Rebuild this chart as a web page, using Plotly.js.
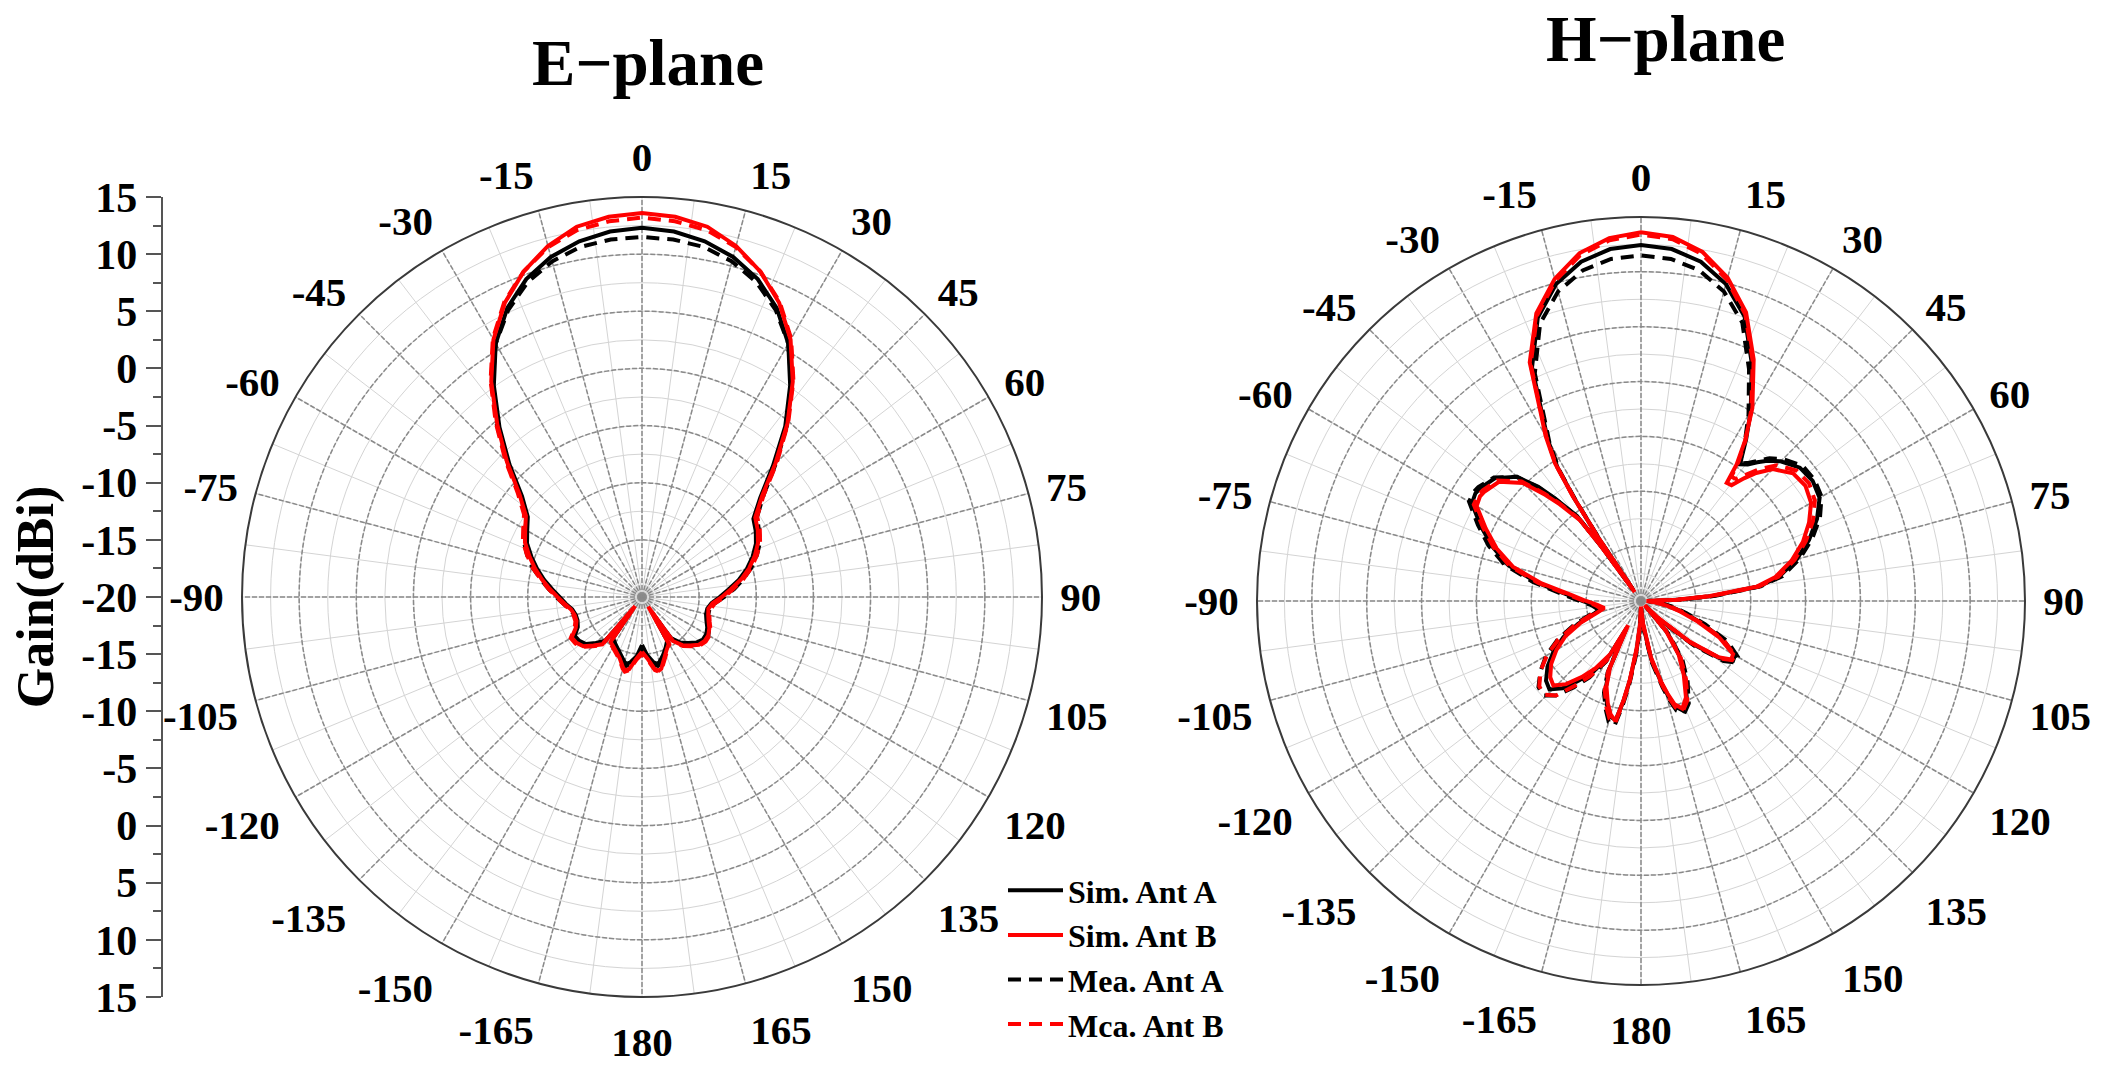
<!DOCTYPE html>
<html>
<head>
<meta charset="utf-8">
<script src="https://cdn.plot.ly/plotly-3.0.1.min.js"></script>
<style>
  html, body { margin: 0; padding: 0; background: #ffffff; }
  #chart { width: 2109px; height: 1080px; }
</style>
</head>
<body>
<div id="chart"></div>
<script>
// ---------- angular tick labels ----------
var angTickVals = [0,15,30,45,60,75,90,105,120,135,150,165,180,195,210,225,240,255,270,285,300,315,330,345];
var angTickText = ['0','15','30','45','60','75','90','105','120','135','150','165','180','-165','-150','-135','-120','-105','-90','-75','-60','-45','-30','-15'];

// ---------- linear gain scale drawn left of the E-plane ----------
var gainTickVals = [-35,-30,-25,-20,-15,-10,-5,0,5,10,15,20,25,30,35];
var gainTickText = ['15','10','5','0','-5','-10','-15','-20','-15','-10','-5','0','5','10','15'];

// ---------- E-plane (deg, dBi) ----------
var thetaE = [-180,-175,-170,-167,-165,-160,-155,-150,-145,-143,-140,-135,-130,-125,-120,-115,-110,-105,-100,-95,-90,-85,-80,-75,-70,-65,-60,-55,-50,-45,-40,-35,-30,-25,-20,-15,-10,-5,0,5,10,15,20,25,30,35,40,45,50,55,60,65,70,75,80,85,90,95,100,105,110,115,120,125,130,135,140,145,147,150,155,160,165,167,170,175,180];

var simA_E = [-15.8,-14.8,-14.2,-14.0,-14.1,-14.6,-15.0,-15.3,-15.6,-18.5,-15.0,-14.3,-13.6,-13.3,-13.2,-13.8,-14.0,-14.0,-13.8,-13.3,-12.8,-12.1,-11.3,-10.5,-9.7,-8.9,-8.4,-7.8,-6.3,-3.6,-0.6,2.6,5.6,7.9,9.6,10.8,11.6,12.1,12.3,12.1,11.6,10.8,9.6,7.9,5.6,2.6,-0.5,-3.8,-6.5,-8.1,-8.5,-9.0,-9.7,-10.5,-11.4,-12.4,-13.2,-13.9,-14.2,-14.2,-14.0,-13.7,-13.5,-13.5,-13.8,-14.3,-14.8,-15.6,-18.5,-15.6,-15.1,-14.6,-14.1,-14.0,-14.2,-14.9,-15.8];

var simB_E = [-15.2,-14.6,-13.6,-13.4,-13.6,-14.3,-14.7,-15.0,-15.2,-19.0,-14.6,-14.0,-13.3,-13.0,-12.9,-13.6,-13.9,-13.9,-13.7,-13.2,-12.6,-11.9,-11.1,-10.3,-9.5,-8.7,-8.2,-7.6,-6.0,-3.3,-0.3,3.0,6.0,8.4,10.3,11.8,12.9,13.4,13.6,13.4,12.9,11.8,10.3,8.4,6.0,3.0,-0.2,-3.5,-6.3,-7.9,-8.3,-8.8,-9.5,-10.3,-11.2,-12.2,-13.0,-13.8,-14.1,-14.0,-13.8,-13.5,-13.3,-13.3,-13.5,-14.0,-14.5,-15.3,-19.0,-15.3,-14.9,-14.3,-13.5,-13.4,-13.6,-14.6,-15.2];

var meaA_E = [-15.5,-14.7,-14.0,-13.8,-13.9,-14.5,-14.9,-15.2,-15.5,-18.0,-14.9,-14.2,-13.5,-13.1,-13.0,-13.7,-13.9,-13.9,-13.6,-13.1,-12.5,-11.8,-11.0,-10.1,-9.3,-8.6,-8.2,-7.7,-6.0,-3.3,-0.2,2.8,5.6,7.7,9.3,10.4,11.1,11.4,11.5,11.4,11.1,10.4,9.3,7.7,5.6,2.8,-0.2,-3.4,-6.1,-7.7,-8.2,-8.6,-9.3,-10.1,-11.0,-11.9,-12.8,-13.6,-14.0,-14.0,-13.8,-13.5,-13.3,-13.3,-13.6,-14.1,-14.7,-15.4,-18.0,-15.4,-15.0,-14.5,-13.9,-13.8,-14.0,-14.8,-15.5];

var meaB_E = [-15.0,-14.5,-13.5,-13.3,-13.5,-14.2,-14.6,-14.9,-15.1,-18.5,-14.5,-13.9,-13.2,-12.9,-12.8,-13.5,-13.8,-13.8,-13.6,-13.1,-12.5,-11.8,-11.0,-10.1,-9.3,-8.5,-8.0,-7.4,-5.8,-3.1,-0.1,3.1,6.1,8.5,10.3,11.7,12.6,13.0,13.2,13.0,12.6,11.7,10.3,8.5,6.1,3.1,-0.1,-3.3,-6.1,-7.7,-8.1,-8.6,-9.3,-10.1,-11.0,-12.0,-12.8,-13.6,-13.9,-13.9,-13.7,-13.4,-13.2,-13.2,-13.4,-13.9,-14.4,-15.2,-18.5,-15.2,-14.8,-14.2,-13.4,-13.3,-13.5,-14.5,-15.0];

// ---------- H-plane (deg, dBi) ----------
var thetaH = [-180,-178,-175,-172,-170,-168,-165,-162,-158,-155,-152,-150,-146,-142,-138,-134,-130,-125,-120,-115,-110,-105,-101,-95,-90,-85,-80,-75,-70,-65,-60,-57,-55,-50,-45,-42,-40,-37,-36,-35,-34,-33,-32,-30,-28,-25,-20,-15,-10,-5,0,5,10,15,20,25,30,33,35,36,38,40,42,45,50,55,60,65,70,75,80,83,86,88,91,95,100,105,110,115,120,123,126,130,135,138,140,145,150,155,159,162,164,166,170,175,180];

var simA_H = [-19.4,-17.8,-15.6,-12.7,-10.7,-8.9,-9.1,-10.0,-11.4,-13.2,-17.2,-14.2,-12.2,-10.8,-9.3,-8.4,-8.7,-9.6,-10.8,-12.2,-13.9,-15.6,-16.3,-15.8,-14.7,-13.2,-10.4,-7.5,-5.6,-3.9,-2.2,-2.0,-2.1,-2.6,-4.0,-6.0,-7.8,-10.3,-13.8,-18.8,-13.2,-8.8,-5.6,-3.0,-0.9,3.5,7.5,9.9,11.4,12.2,12.45,12.2,11.4,9.9,7.6,3.9,0.0,-2.4,-4.0,-4.6,-4.2,-3.5,-2.8,-2.0,-1.1,-0.9,-1.2,-2.3,-3.7,-5.3,-7.2,-9.2,-13.5,-16.6,-19.4,-18.6,-17.4,-16.0,-14.2,-11.8,-10.1,-10.0,-11.1,-14.0,-17.8,-19.4,-16.3,-13.8,-12.0,-10.1,-9.3,-9.9,-11.0,-12.3,-14.6,-17.8,-19.4];

var simB_H = [-19.5,-18.0,-15.8,-12.8,-10.8,-8.8,-9.3,-10.2,-11.6,-13.3,-17.5,-14.4,-12.6,-11.2,-9.8,-8.9,-9.2,-10.0,-11.1,-12.4,-14.1,-15.8,-16.6,-16.0,-15.0,-13.6,-10.8,-7.9,-6.0,-4.4,-2.7,-2.5,-2.6,-3.1,-4.8,-7.0,-8.5,-10.8,-14.0,-19.0,-13.0,-8.5,-5.2,-2.6,-0.5,4.0,7.9,10.4,12.2,13.2,13.6,13.3,12.3,10.5,8.0,4.3,0.3,-2.6,-4.8,-6.7,-6.6,-5.4,-4.3,-3.0,-1.9,-1.7,-2.1,-3.1,-4.3,-5.8,-7.6,-9.4,-13.8,-16.8,-19.5,-18.8,-17.6,-16.3,-14.5,-12.1,-10.3,-10.2,-11.3,-14.3,-18.0,-19.5,-16.5,-14.0,-12.2,-10.3,-9.5,-10.1,-11.2,-12.4,-14.8,-18.0,-19.5];

var meaA_H = [-19.2,-17.5,-15.2,-12.3,-10.3,-8.4,-8.6,-9.6,-11.0,-12.8,-16.8,-13.6,-11.6,-10.0,-8.4,-7.6,-7.8,-8.8,-10.0,-11.6,-13.4,-15.2,-16.0,-15.5,-14.4,-12.8,-10.0,-7.1,-5.2,-3.6,-1.9,-1.8,-1.9,-2.5,-4.0,-6.1,-7.9,-10.4,-13.9,-18.6,-13.4,-9.1,-5.9,-3.3,-1.3,2.9,6.9,9.2,10.6,11.3,11.5,11.3,10.6,9.2,7.0,3.3,-0.4,-2.6,-4.1,-4.5,-4.0,-3.3,-2.5,-1.7,-0.8,-0.7,-1.0,-2.0,-3.4,-5.0,-6.9,-9.0,-13.2,-16.4,-19.2,-18.4,-17.1,-15.7,-13.8,-11.3,-9.8,-9.7,-10.7,-13.6,-17.5,-19.2,-16.0,-13.4,-11.5,-9.7,-9.0,-9.5,-10.6,-11.9,-14.3,-17.5,-19.2];

var meaB_H = [-19.4,-17.9,-15.6,-12.6,-10.6,-8.6,-8.9,-9.8,-11.2,-12.9,-17.0,-13.8,-11.8,-10.2,-8.4,-7.7,-7.9,-8.8,-10.1,-11.7,-13.6,-15.4,-16.3,-15.8,-14.8,-13.3,-10.5,-7.6,-5.7,-4.1,-2.4,-2.3,-2.4,-2.9,-4.6,-6.8,-8.3,-10.6,-13.8,-18.8,-13.1,-8.7,-5.4,-2.8,-0.7,3.8,7.7,10.2,12.0,13.0,13.4,13.1,12.1,10.3,7.8,4.1,0.1,-2.5,-4.5,-6.0,-5.9,-4.9,-3.8,-2.5,-1.5,-1.3,-1.7,-2.7,-4.0,-5.5,-7.3,-9.2,-13.6,-16.6,-19.4,-18.6,-17.4,-16.1,-14.2,-11.8,-10.1,-10.1,-11.1,-14.1,-17.8,-19.4,-16.2,-13.7,-11.8,-10.0,-9.3,-9.8,-10.9,-12.2,-14.6,-17.8,-19.4];

// ---------- figure ----------
var W = 2109, H = 1080;
var serif = 'Liberation Serif, Times New Roman, serif';
var dashPat = '13px,8px';

function tr(r, theta, name, color, dash, subplot, show, rank) {
  return {
    type: 'scatterpolar', mode: 'lines', r: r, theta: theta, subplot: subplot,
    name: name, showlegend: show, legendrank: rank, hoverinfo: 'skip',
    line: { color: color, width: 4, dash: dash }
  };
}
// invisible carrier traces so that the grid-only subplots and the gain scale get drawn
function carrier(r, theta, subplot) {
  return { type: 'scatterpolar', mode: 'lines', r: r, theta: theta, subplot: subplot,
           showlegend: false, hoverinfo: 'skip', line: { width: 0, color: 'rgba(0,0,0,0)' } };
}

var data = [
  carrier(simB_E, thetaE, 'polar'),
  carrier(simB_H, thetaH, 'polar2'),
  { type: 'scatter', mode: 'none', x: gainTickVals, y: gainTickVals, xaxis: 'x', yaxis: 'y',
    showlegend: false, hoverinfo: 'skip' },
  tr(simA_E, thetaE, 'Sim. Ant A', '#000000', 'solid', 'polar3', true, 1),
  tr(meaA_E, thetaE, 'Mea. Ant A', '#000000', dashPat, 'polar3', true, 3),
  tr(meaB_E, thetaE, 'Mca. Ant B', '#ff0000', dashPat, 'polar3', true, 4),
  tr(simB_E, thetaE, 'Sim. Ant B', '#ff0000', 'solid', 'polar3', true, 2),
  tr(simA_H, thetaH, 'Sim. Ant A', '#000000', 'solid', 'polar4', false, 1),
  tr(meaA_H, thetaH, 'Mea. Ant A', '#000000', dashPat, 'polar4', false, 3),
  tr(meaB_H, thetaH, 'Mca. Ant B', '#ff0000', dashPat, 'polar4', false, 4),
  tr(simB_H, thetaH, 'Sim. Ant B', '#ff0000', 'solid', 'polar4', false, 2)
];

var domE = { x: [242 / W, 1042 / W], y: [83 / H, 883 / H] };
var domH = { x: [1257 / W, 2025 / W], y: [95 / H, 863 / H] };

function minorPolar(dom) {
  return {
    domain: dom, bgcolor: '#ffffff',
    radialaxis: { range: [-20, 15], tick0: -20, dtick: 2.5, showticklabels: false, ticks: '',
                  showline: false, gridcolor: '#d4d4d4', gridwidth: 1 },
    angularaxis: { rotation: 90, direction: 'clockwise', tickmode: 'linear', tick0: 0, dtick: 7.5,
                   showticklabels: false, ticks: '', showline: false, gridcolor: '#d4d4d4', gridwidth: 1 }
  };
}
function majorPolar(dom) {
  return {
    domain: dom, bgcolor: 'rgba(0,0,0,0)',
    radialaxis: { range: [-20, 15], tickmode: 'array', tickvals: [-15, -10, -5, 0, 5, 10],
                  showticklabels: false, ticks: '', showline: false,
                  gridcolor: '#8a8a8a', gridwidth: 1.5, griddash: '5px,2px' },
    angularaxis: { rotation: 90, direction: 'clockwise', tickmode: 'array',
                   tickvals: angTickVals, ticktext: angTickText,
                   ticks: 'outside', ticklen: 9, tickcolor: 'rgba(0,0,0,0)',
                   showline: true, linecolor: '#3a3a3a', linewidth: 2,
                   gridcolor: '#8a8a8a', gridwidth: 1.5, griddash: '5px,2px',
                   tickfont: { family: serif, size: 41, color: '#000', weight: 'bold' } }
  };
}

var layout = {
  width: W, height: H,
  margin: { l: 0, r: 0, t: 0, b: 0 },
  paper_bgcolor: '#ffffff', plot_bgcolor: 'rgba(0,0,0,0)',
  font: { family: serif, color: '#000', weight: 'bold' },
  showlegend: true,
  legend: { x: 1003 / W, y: 1 - 863 / H, xanchor: 'left', yanchor: 'top',
            bgcolor: 'rgba(0,0,0,0)', font: { family: serif, size: 32, color: '#000', weight: 'bold' },
            itemwidth: 55, tracegroupgap: 0, traceorder: 'normal' },
  polar: minorPolar(domE),
  polar2: minorPolar(domH),
  polar3: majorPolar(domE),
  polar4: majorPolar(domH),
  xaxis: { visible: false, domain: [0, 0.06], range: [100, 200], fixedrange: true },
  yaxis: { visible: true, anchor: 'free', position: 161.7 / W, domain: [83 / H, 883 / H], range: [-35, 35],
           fixedrange: true, tickmode: 'array', tickvals: gainTickVals, ticktext: gainTickText,
           showgrid: false, zeroline: false, showline: true, linecolor: '#555', linewidth: 2,
           ticks: 'outside', ticklen: 15, tickwidth: 2, tickcolor: '#555',
           minor: { dtick: 2.5, tick0: 0, ticks: 'outside', ticklen: 8, tickwidth: 2, tickcolor: '#555', showgrid: false },
           tickfont: { family: serif, size: 42, color: '#000', weight: 'bold' },
           title: { text: 'Gain(dBi)', standoff: 10,
                    font: { family: serif, size: 52, color: '#000', weight: 'bold' } } },
  annotations: [
    { text: 'E\u2212plane', x: 648 / W, y: 1 - 63 / H, xref: 'paper', yref: 'paper',
      xanchor: 'center', yanchor: 'middle', showarrow: false,
      font: { family: serif, size: 65, color: '#000', weight: 'bold' } },
    { text: 'H\u2212plane', x: 1665 / W, y: 1 - 39 / H, xref: 'paper', yref: 'paper',
      xanchor: 'center', yanchor: 'middle', showarrow: false,
      font: { family: serif, size: 65, color: '#000', weight: 'bold' } }
  ]
};

Plotly.newPlot('chart', data, layout, { staticPlot: true, displayModeBar: false });
</script>
</body>
</html>
